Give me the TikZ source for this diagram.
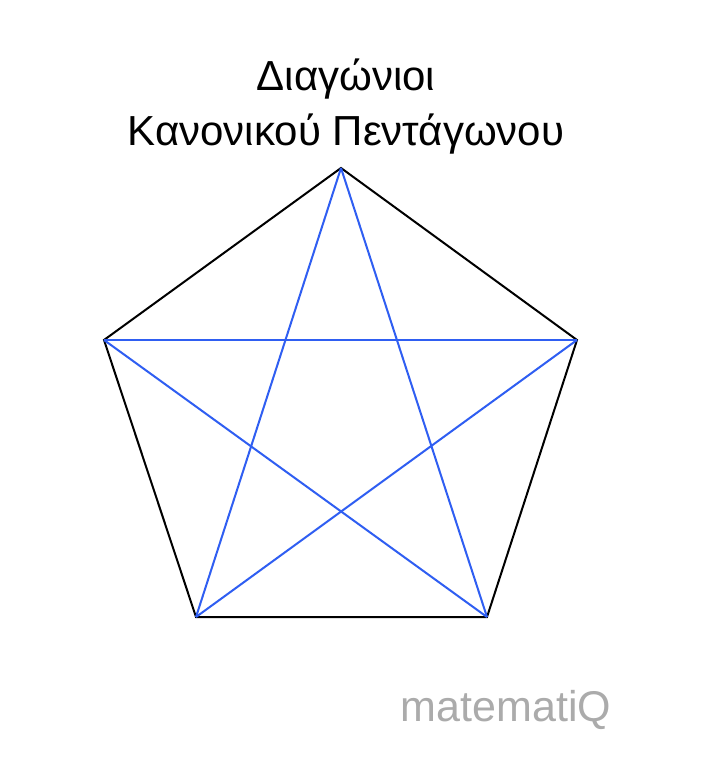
\documentclass[tikz,border=0pt]{standalone}
\usepackage{fontspec}
\setmainfont{Liberation Sans}
\definecolor{diagblue}{HTML}{2F5EF2}
\definecolor{wmgray}{HTML}{ABABAB}
\begin{document}
\begin{tikzpicture}[x=1pt,y=-1pt,
  side/.style={draw=black,line width=2pt,line join=miter},
  diag/.style={draw=diagblue,line width=2pt},
  ttl/.style={font=\fontsize{42}{55}\selectfont,align=center,inner sep=0pt,anchor=base}]
\useasboundingbox (0,0) rectangle (712,760);
\fill[white] (0,0) rectangle (712,760);
\coordinate (A) at (341,168);
\coordinate (B) at (577,340);
\coordinate (C) at (487,617);
\coordinate (D) at (196,617);
\coordinate (E) at (104,340);
\draw[side] (A) -- (B) -- (C) -- (D) -- (E) -- cycle;
\draw[diag] (A) -- (C);
\draw[diag] (A) -- (D);
\draw[diag] (B) -- (D);
\draw[diag] (B) -- (E);
\draw[diag] (C) -- (E);
\node[ttl] (title) at (346,145) {Διαγώνιοι\\Κανονικού Πεντάγωνου};
\node[font=\fontsize{43}{48}\selectfont,text=wmgray,inner sep=0pt,anchor=base] (wm) at (506,721) {matematiQ};
\end{tikzpicture}
\end{document}
